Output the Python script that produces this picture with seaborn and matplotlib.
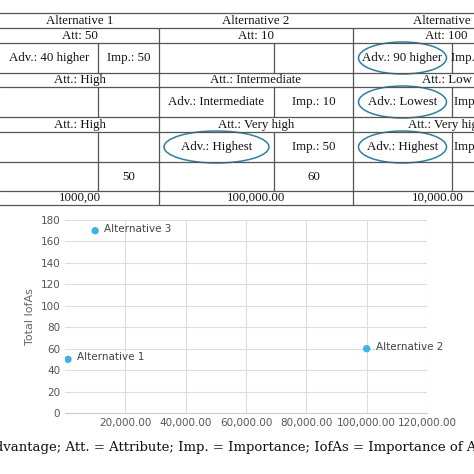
import numpy as np
import seaborn as sns
import matplotlib.pyplot as plt
import pandas as pd
from matplotlib.patches import Ellipse

names = ['Alternative 1', 'Alternative 2', 'Alternative 3']
cost = [1000, 100000, 10000]
total_iofas = [50, 60, 170]

att_rows = [['Att: 50', 'Att: 10', 'Att: 100'],
            ['Att.: High', 'Att.: Intermediate', 'Att.: Low'],
            ['Att.: High', 'Att.: Very high', 'Att.: Very high']]
adv_rows = [['Adv.: 40 higher', '', 'Adv.: 90 higher'],
            ['', 'Adv.: Intermediate', 'Adv.: Lowest'],
            ['', 'Adv.: Highest', 'Adv.: Highest']]
imp_rows = [['Imp.: 50', '', 'Imp.: 100'],
            ['', 'Imp.: 10', 'Imp.: 10'],
            ['', 'Imp.: 50', 'Imp.: 50']]
circled = [[False, False, True], [False, False, True], [False, True, True]]
totals = ['50', '60', '170']
cost_labels = ['1000,00', '100,000.00', '10,000.00']

sns.set_style('white')
fig = plt.figure(figsize=(4.74, 4.74), dpi=100)

# table drawn in pixel coordinates
tb = fig.add_axes([0, 0, 1, 1])
tb.set_xlim(0, 474)
tb.set_ylim(474, 0)
tb.axis('off')
serif = dict(family='Liberation Serif', fontsize=9.3, color='#111111', ha='center', va='center')

col_l = [0, 159, 353]
col_r = [159, 353, 540]
col_sub = [98, 274, 452]
hlines = [13, 28, 43, 73, 87, 117, 132, 162, 191, 205]
for y in hlines:
    tb.plot([0, 474], [y, y], color='#555555', lw=0.9)
for x in col_l[1:]:
    tb.plot([x, x], [28, 205], color='#555555', lw=0.9)
for x in col_sub:
    for y0, y1 in [(43, 73), (87, 117), (132, 191)]:
        tb.plot([x, x], [y0, y1], color='#555555', lw=0.9)

att_y = [35.5, 80, 124.5]
adv_y = [58, 102, 147]
for c in range(3):
    cx = (col_l[c] + col_r[c]) / 2
    tb.text(cx, 21, names[c], **serif)
    for r in range(3):
        tb.text(cx, att_y[r], att_rows[r][c], **serif)
        ax_x = (col_l[c] + col_sub[c]) / 2
        tb.text(ax_x, adv_y[r], adv_rows[r][c], **serif)
        tb.text((col_sub[c] + col_r[c]) / 2 + (0 if c < 2 else -20), adv_y[r], imp_rows[r][c], **serif)
        if circled[r][c]:
            w = 105 if c == 1 else 88
            tb.add_patch(Ellipse((ax_x, adv_y[r]), w, 32, fill=False,
                                 ec='#2f7fa0', lw=1.1))
    tb.text((col_sub[c] + col_r[c]) / 2, 176.5, totals[c], **serif)
    tb.text(cx if c < 2 else 438, 198, cost_labels[c], **serif)

tb.text(237, 447, 'Adv. = advantage; Att. = Attribute; Imp. = Importance; IofAs = Importance of Attributes',
        family='DejaVu Serif', fontsize=9.5, ha='center', va='center', color='#111111')

# scatter chart
ax = fig.add_axes([65 / 474, 61 / 474, 362 / 474, 193 / 474])
df = pd.DataFrame({'name': names, 'cost': cost, 'iofas': total_iofas})
sns.scatterplot(data=df, x='cost', y='iofas', ax=ax, color='#3cb4e6', s=28,
                edgecolor='none', zorder=3)
for n, x, y in zip(names, cost, total_iofas):
    ax.text(x + 3000, y + 2, n, fontsize=7.5, color='#444444', va='center')
ax.set_xlim(0, 120000)
ax.set_ylim(0, 180)
ax.set_xticks(np.arange(20000, 120001, 20000))
ax.set_xticklabels([f'{v:,.2f}' for v in np.arange(20000, 120001, 20000)])
ax.set_yticks(np.arange(0, 181, 20))
ax.grid(True, color='#dddddd', lw=0.8)
ax.set_axisbelow(True)
for s in ['top', 'right', 'left']:
    ax.spines[s].set_visible(False)
ax.spines['bottom'].set_color('#cccccc')
ax.tick_params(colors='#555555', labelsize=7.5, length=0)
ax.set_xlabel('')
ax.set_ylabel('Total IofAs', fontsize=8, color='#666666')
ax.patch.set_alpha(0)

fig.savefig('out.png', dpi=100)
